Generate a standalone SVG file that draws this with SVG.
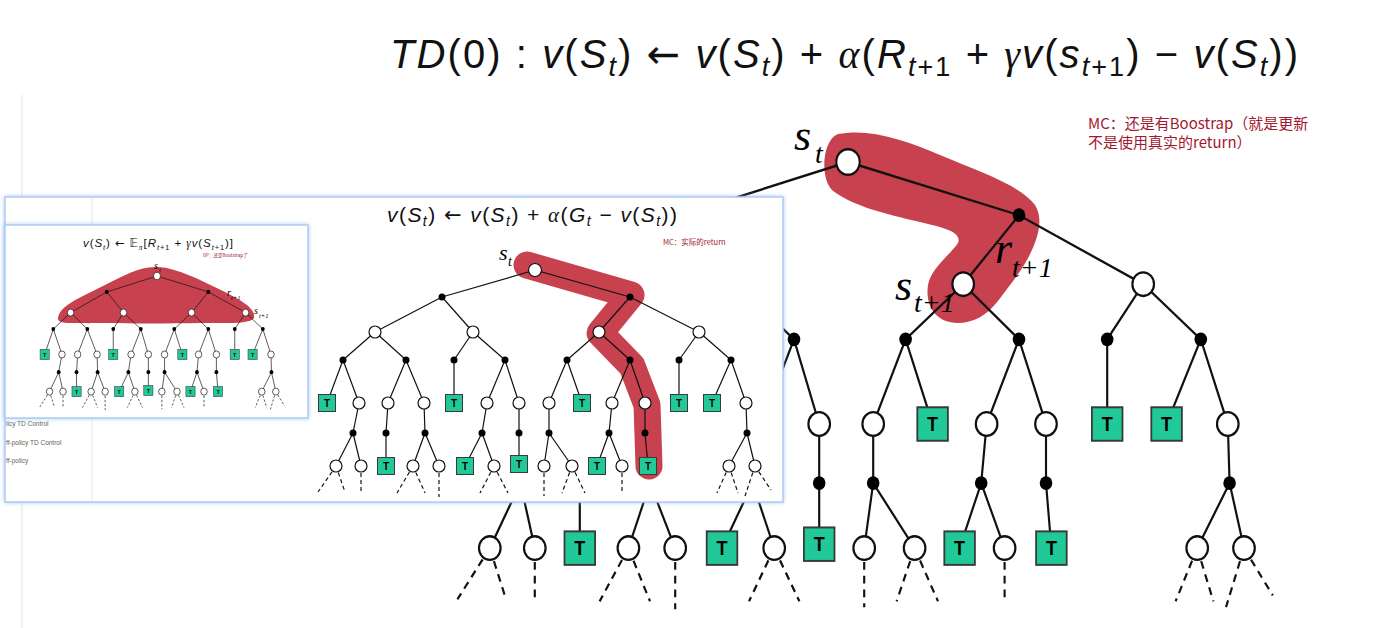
<svg xmlns="http://www.w3.org/2000/svg" xmlns:xlink="http://www.w3.org/1999/xlink" width="1398" height="628" viewBox="0 0 1398 628">
<style>
.ed{stroke:#111;stroke-width:1.2;fill:none;stroke-linecap:round}
.da{stroke:#111;stroke-width:1.2;fill:none;stroke-dasharray:4 3}
.oc{fill:#fff;stroke:#111;stroke-width:1.2}
.dot{fill:#000}
.tb rect{fill:#20c997;stroke:#3a3a3a;stroke-width:1}
.tb text{font-family:"Liberation Sans",Arial,sans-serif;font-weight:bold;font-size:10px;text-anchor:middle;fill:#000}
.blob{fill:#c8414f}
.mf{font-family:"Liberation Sans","DejaVu Sans",sans-serif;fill:#111}
.i{font-style:italic}
.ar{font-family:"DejaVu Sans",sans-serif}
.g{font-family:"Liberation Serif","DejaVu Serif",serif;font-style:italic}
.lab{font-family:"Liberation Serif","DejaVu Serif",serif;font-style:italic;fill:#000}
.cn{font-family:"Noto Sans CJK SC","Noto Sans",sans-serif;fill:#a3182e}
.side{font-family:"Liberation Sans",Arial,sans-serif;font-size:6.5px;fill:#5b6470}
.frame{fill:#fff;stroke:#aecbf2;stroke-width:1.5}
</style>
<defs>
<filter id="sh" x="-5%" y="-5%" width="110%" height="110%"><feDropShadow dx="0" dy="0" stdDeviation="2" flood-color="#8db4ec" flood-opacity="0.7"/></filter>
<g id="T" class="tb"><rect x="-8.5" y="-8.5" width="17" height="17"/><text y="3.7">T</text></g>
<g id="tree">
<g id="tree-edges">
<path class="ed" d="M0 0L-93 27M0 0L95 27M-93 27L-160 62M-93 27L-62 62M95 27L64 62M95 27L164 62M-160 62L-192 90M-160 62L-129 90M-62 62L-81 90M-62 62L-30 90M64 62L32 90M64 62L95 90M164 62L144 90M164 62L196 90M-192 90L-208 133M-192 90L-176 133M-129 90L-147 133M-129 90L-111 133M-81 90L-81 133M-30 90L-48 133M-30 90L-16 133M32 90L14 133M32 90L47 133M95 90L77 133M95 90L110 133M144 90L144 133M196 90L177 133M196 90L211 133M-176 133L-182 163M-147 133L-149 163M-111 133L-110 163M-48 133L-53 163M-16 133L-16 163M14 133L14 163M77 133L74 163M110 133L110 163M211 133L212 163M-182 163L-199 196M-182 163L-174 196M-149 163L-149 196M-110 163L-122 196M-110 163L-96 196M-53 163L-70 196M-53 163L-41 196M-16 163L-16 194M14 163L9 196M14 163L37 196M74 163L62 196M74 163L87 196M110 163L113 196M212 163L194 196M212 163L220 196"/>
<path class="da" d="M-199 196L-217 222M-199 196L-190 222M-174 196L-174 224M-122 196L-138 223M-122 196L-110 223M-96 196L-96 227M-41 196L-55 223M-41 196L-27 223M9 196L9 226M37 196L27 223M37 196L50 223M87 196L87 224M194 196L182 223M194 196L203 223M220 196L210 226M220 196L236 220"/>
</g>
<g id="tree-states">
<circle class="oc" cx="0" cy="0" r="6.5"/>
<circle class="oc" cx="-160" cy="62" r="6"/><circle class="oc" cx="-62" cy="62" r="6"/><circle class="oc" cx="64" cy="62" r="6"/><circle class="oc" cx="164" cy="62" r="6"/>
<circle class="oc" cx="-176" cy="133" r="6"/><circle class="oc" cx="-147" cy="133" r="6"/><circle class="oc" cx="-111" cy="133" r="6"/><circle class="oc" cx="-48" cy="133" r="6"/><circle class="oc" cx="-16" cy="133" r="6"/><circle class="oc" cx="14" cy="133" r="6"/><circle class="oc" cx="77" cy="133" r="6"/><circle class="oc" cx="110" cy="133" r="6"/><circle class="oc" cx="211" cy="133" r="6"/>
<circle class="oc" cx="-199" cy="196" r="6"/><circle class="oc" cx="-174" cy="196" r="6"/><circle class="oc" cx="-122" cy="196" r="6"/><circle class="oc" cx="-96" cy="196" r="6"/><circle class="oc" cx="-41" cy="196" r="6"/><circle class="oc" cx="9" cy="196" r="6"/><circle class="oc" cx="37" cy="196" r="6"/><circle class="oc" cx="87" cy="196" r="6"/><circle class="oc" cx="194" cy="196" r="6"/><circle class="oc" cx="220" cy="196" r="6"/>
</g>
<g id="tree-actions">
<circle class="dot" cx="-93" cy="27" r="3.5"/><circle class="dot" cx="95" cy="27" r="3.5"/>
<circle class="dot" cx="-192" cy="90" r="3.5"/><circle class="dot" cx="-129" cy="90" r="3.5"/><circle class="dot" cx="-81" cy="90" r="3.5"/><circle class="dot" cx="-30" cy="90" r="3.5"/><circle class="dot" cx="32" cy="90" r="3.5"/><circle class="dot" cx="95" cy="90" r="3.5"/><circle class="dot" cx="144" cy="90" r="3.5"/><circle class="dot" cx="196" cy="90" r="3.5"/>
<circle class="dot" cx="-182" cy="163" r="3.5"/><circle class="dot" cx="-149" cy="163" r="3.5"/><circle class="dot" cx="-110" cy="163" r="3.5"/><circle class="dot" cx="-53" cy="163" r="3.5"/><circle class="dot" cx="-16" cy="163" r="3.5"/><circle class="dot" cx="14" cy="163" r="3.5"/><circle class="dot" cx="74" cy="163" r="3.5"/><circle class="dot" cx="110" cy="163" r="3.5"/><circle class="dot" cx="212" cy="163" r="3.5"/>
</g>
<g id="tree-terminals">
<use xlink:href="#T" x="-208" y="133"/><use xlink:href="#T" x="-81" y="133"/><use xlink:href="#T" x="47" y="133"/><use xlink:href="#T" x="144" y="133"/><use xlink:href="#T" x="177" y="133"/>
<use xlink:href="#T" x="-149" y="196"/><use xlink:href="#T" x="-70" y="196"/><use xlink:href="#T" x="-16" y="194"/><use xlink:href="#T" x="62" y="196"/><use xlink:href="#T" x="113" y="196"/>
</g>
</g>
</defs>

<rect width="1398" height="628" fill="#fff"/>
<line x1="22" y1="95" x2="22" y2="628" stroke="#e2e2e2" stroke-width="1"/>

<g id="td-formula">
<text class="mf" x="390" y="68" font-size="40" textLength="908" lengthAdjust="spacing"><tspan class="i">TD</tspan>(0) : <tspan class="i">v</tspan>(<tspan class="i">S</tspan><tspan class="i" font-size="27" dy="8">t</tspan><tspan dy="-8">) </tspan><tspan class="ar">←</tspan> <tspan class="i">v</tspan>(<tspan class="i">S</tspan><tspan class="i" font-size="27" dy="8">t</tspan><tspan dy="-8">) + </tspan><tspan class="g">α</tspan>(<tspan class="i">R</tspan><tspan font-size="27" dy="8"><tspan class="i">t</tspan>+1</tspan><tspan dy="-8"> + </tspan><tspan class="g">γ</tspan><tspan class="i">v</tspan>(<tspan class="i">s</tspan><tspan font-size="27" dy="8"><tspan class="i">t</tspan>+1</tspan><tspan dy="-8">) − </tspan><tspan class="i">v</tspan>(<tspan class="i">S</tspan><tspan class="i" font-size="27" dy="8">t</tspan><tspan dy="-8">))</tspan></text>
</g>

<g id="mc-note">
<text class="cn" x="1088" y="129" font-size="15">MC：还是有Boostrap（就是更新</text>
<text class="cn" x="1088" y="148" font-size="15">不是使用真实的return）</text>
</g>

<g id="big-tree">
<path class="blob" d="M838 134C870 128 905 140 940 155C980 172 1020 185 1035 205C1048 225 1030 260 1010 285C995 305 985 322 958 323C935 323 925 305 928 285C931 268 950 255 958 243C962 232 945 228 920 222C885 214 850 205 832 190C820 178 822 140 838 134Z"/>
<use xlink:href="#tree" transform="translate(848,162) scale(1.8,1.97)"/>
<text class="lab" x="794" y="150" font-size="44">s</text><text class="lab" x="815" y="163" font-size="28">t</text>
<text class="lab" x="995" y="263" font-size="44">r</text><text class="lab" x="1012" y="277" font-size="28">t+1</text>
<text class="lab" x="895" y="300" font-size="44">s</text><text class="lab" x="914" y="312" font-size="28">t+1</text>
</g>

<g id="mid-slide">
<rect class="frame" x="5" y="197" width="778" height="305" filter="url(#sh)"/>
<line x1="92" y1="198" x2="92" y2="501" stroke="#e8e8e8" stroke-width="1"/>
<text class="side" x="6" y="426">licy TD Control</text>
<text class="side" x="6" y="445" fill="#6b5a4a" style="fill:#6b5e52">ff-policy TD Control</text>
<text class="side" x="6" y="463">ff-policy</text>
<text class="mf" x="387" y="222" font-size="21" textLength="290" lengthAdjust="spacing"><tspan class="i">v</tspan>(<tspan class="i">S</tspan><tspan class="i" font-size="14" dy="4">t</tspan><tspan dy="-4">) </tspan><tspan class="ar">←</tspan> <tspan class="i">v</tspan>(<tspan class="i">S</tspan><tspan class="i" font-size="14" dy="4">t</tspan><tspan dy="-4">) + </tspan><tspan class="g">α</tspan>(<tspan class="i">G</tspan><tspan class="i" font-size="14" dy="4">t</tspan><tspan dy="-4"> − </tspan><tspan class="i">v</tspan>(<tspan class="i">S</tspan><tspan class="i" font-size="14" dy="4">t</tspan><tspan dy="-4">))</tspan></text>
<text class="cn" x="663" y="245" font-size="7.5">MC：实际的return</text>
<path d="M527 265L631 295L600 333L632 366L647 405L649 466" fill="none" stroke="#c8414f" stroke-width="27" stroke-linejoin="round" stroke-linecap="round"/>
<use xlink:href="#tree" transform="translate(535,270)"/>
<text class="lab" x="499" y="260" font-size="22">s</text><text class="lab" x="508" y="266" font-size="14">t</text>
</g>

<g id="small-slide">
<rect class="frame" x="5" y="225" width="303" height="193" filter="url(#sh)"/>
<text class="mf" x="83" y="247" font-size="11.5" textLength="150" lengthAdjust="spacing"><tspan class="i">v</tspan>(<tspan class="i">S</tspan><tspan class="i" font-size="7.5" dy="2.5">t</tspan><tspan dy="-2.5">) </tspan><tspan class="ar">←</tspan> <tspan font-family="DejaVu Sans">𝔼</tspan><tspan class="g" font-size="7.5" dy="2.5">π</tspan><tspan dy="-2.5">[</tspan><tspan class="i">R</tspan><tspan font-size="7.5" dy="2.5"><tspan class="i">t</tspan>+1</tspan><tspan dy="-2.5"> + </tspan><tspan class="g">γ</tspan><tspan class="i">v</tspan>(<tspan class="i">S</tspan><tspan font-size="7.5" dy="2.5"><tspan class="i">t</tspan>+1</tspan><tspan dy="-2.5">)]</tspan></text>
<text class="cn" x="203" y="257" font-size="4.5">DP：还是Bootstrap了</text>
<path class="blob" d="M58 318C60 305 80 298 105 285C125 275 140 266 158 267C178 268 200 280 225 292C240 300 256 308 254 318C250 324 230 323 200 323C150 324 100 323 70 323C62 323 57 321 58 318Z"/>
<use xlink:href="#tree" transform="translate(157,276) scale(0.54,0.59)"/>
<text class="lab" x="154" y="269" font-size="10">s</text><text class="lab" x="159" y="272" font-size="6.5">t</text>
<text class="lab" x="227" y="296" font-size="10">r</text><text class="lab" x="231" y="300" font-size="6.5">t+1</text>
<text class="lab" x="254" y="314" font-size="10">s</text><text class="lab" x="259" y="318" font-size="6.5">t+1</text>
</g>
</svg>
